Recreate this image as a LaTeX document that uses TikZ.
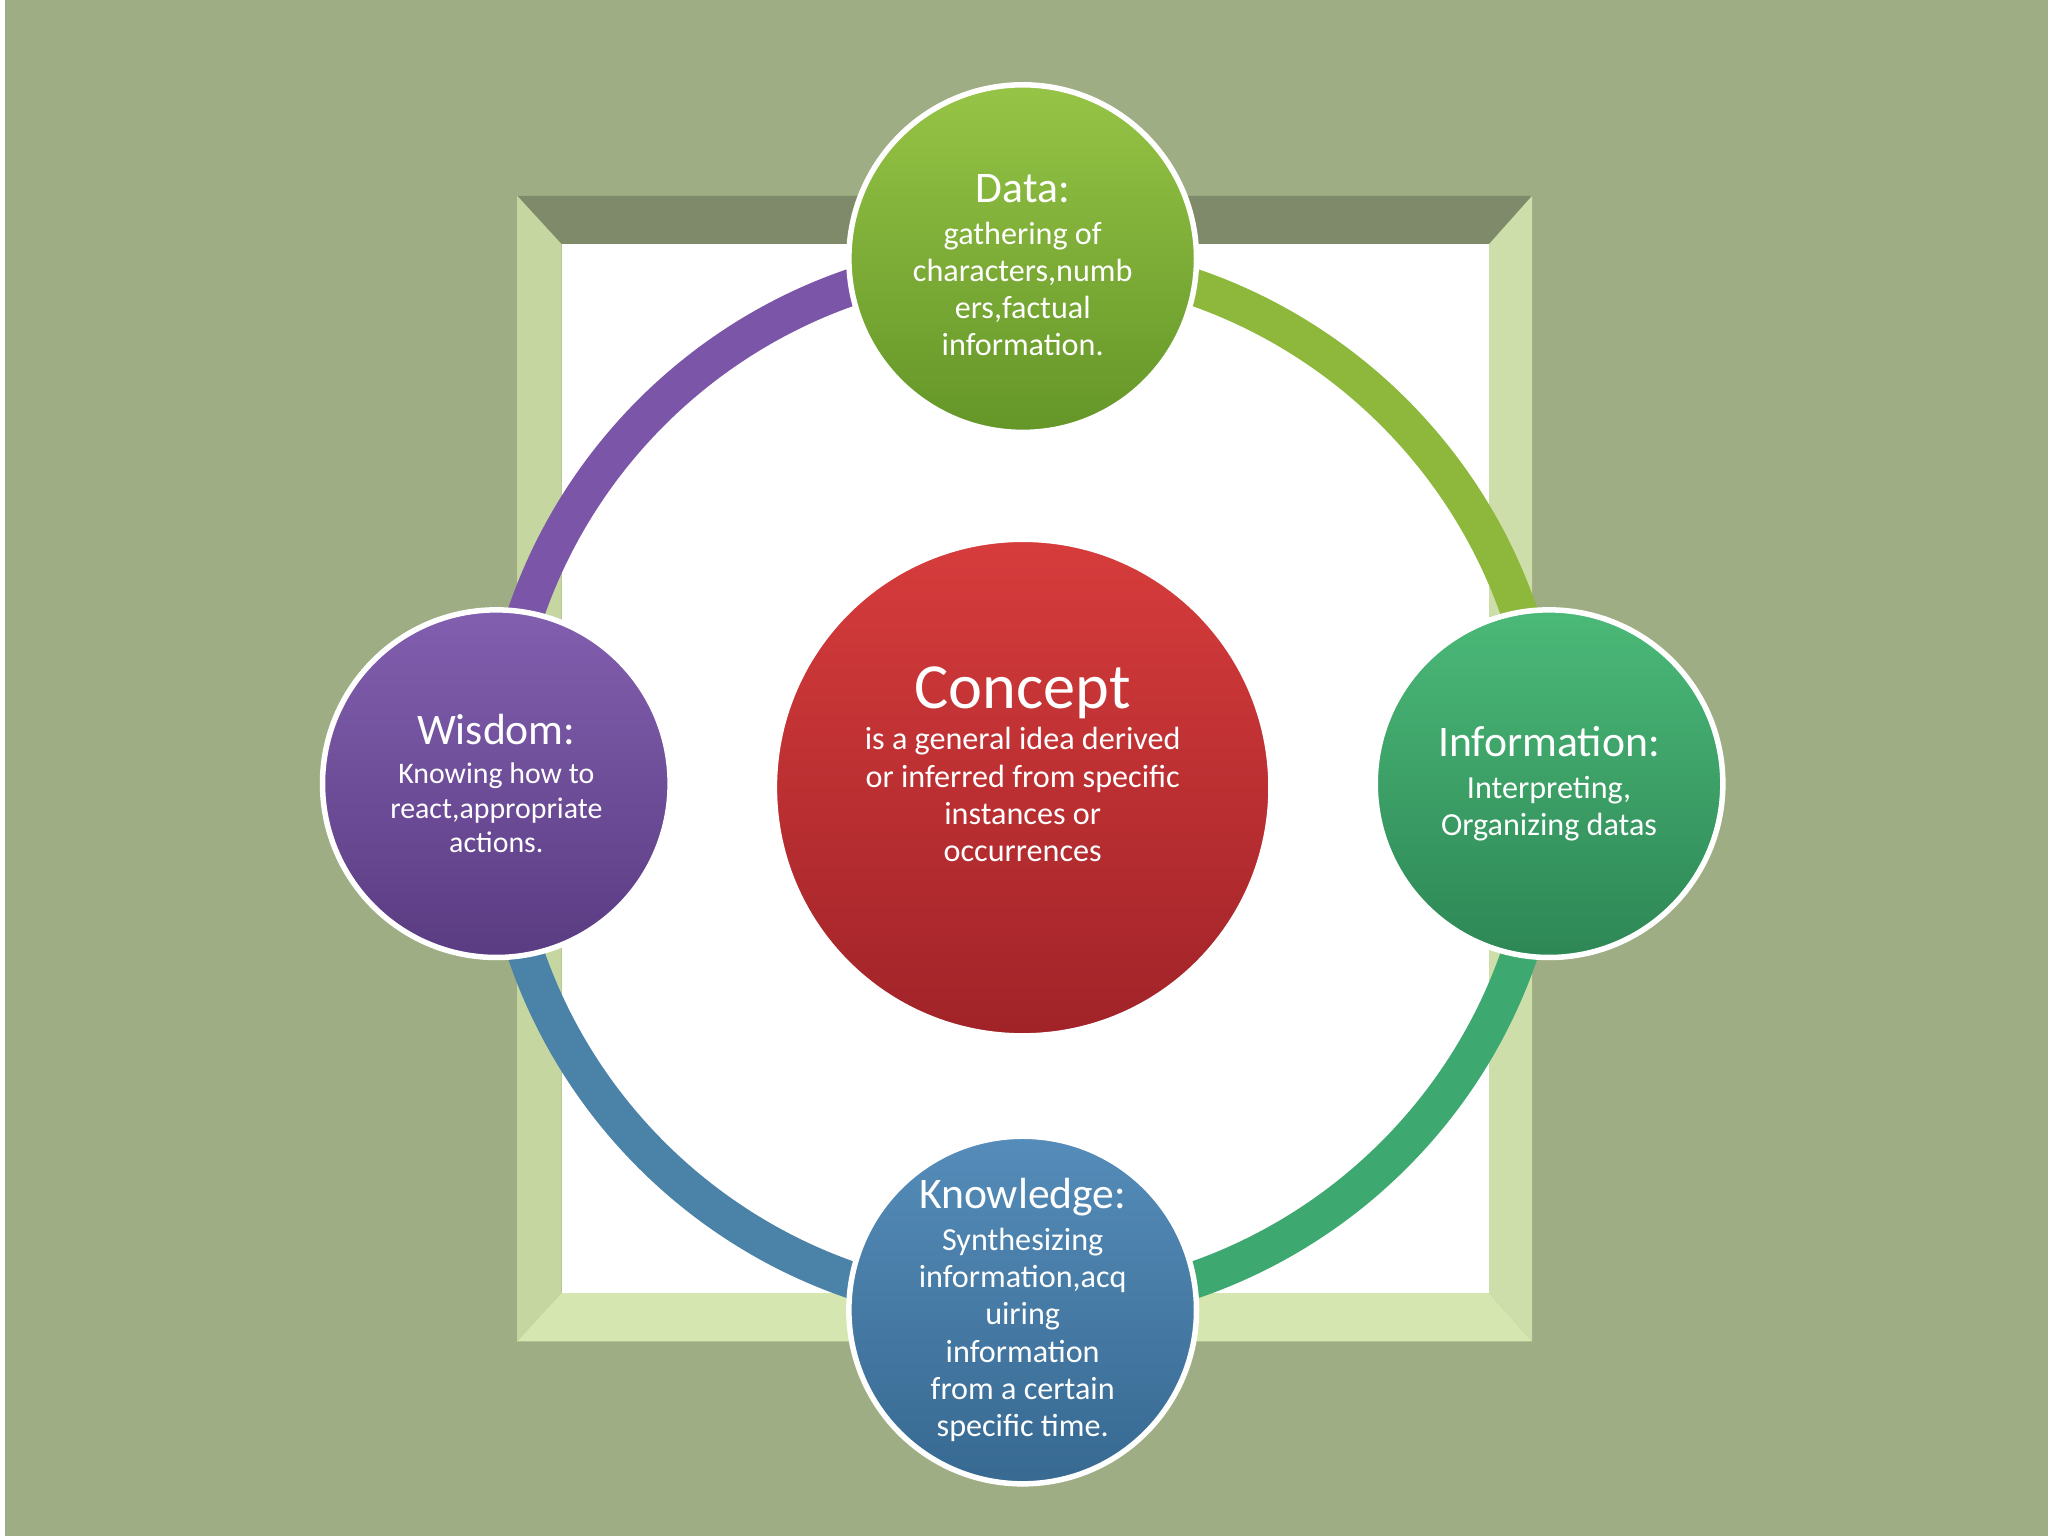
\documentclass[tikz,border=0pt]{standalone}
\usepackage{fontspec}
\setmainfont{Carlito}
\begin{document}
\begin{tikzpicture}[x=0.01cm,y=-0.01cm,
  ball/.style={circle,draw=white,line width=1.2pt,text=white,align=center,inner sep=0pt},
  txt/.style={align=center,text=white,font=\fontsize{7}{8.1}\selectfont}]
\useasboundingbox (0,0) rectangle (1568,1176);
\fill[fill={rgb,255:red,158;green,173;blue,131}] (0,0) rectangle (1568,1176);
\fill[white] (0,0) rectangle (4,1176);
% frame
\fill[fill={rgb,255:red,127;green,138;blue,106}] (396,150)--(1173,150)--(1140,187)--(430,187)--cycle;
\fill[fill={rgb,255:red,197;green,214;blue,160}] (396,150)--(430,187)--(430,990)--(396,1027)--cycle;
\fill[fill={rgb,255:red,213;green,230;blue,176}] (396,1027)--(430,990)--(1140,990)--(1173,1027)--cycle;
\fill[fill={rgb,255:red,205;green,222;blue,170}] (1173,150)--(1140,187)--(1140,990)--(1173,1027)--cycle;
\fill[white] (430,187) rectangle (1140,990);
% ring
\draw[line width=8pt,color={rgb,255:red,123;green,85;blue,168}] (783,198) arc[start angle=-90,end angle=-180,radius=402];
\draw[line width=8pt,color={rgb,255:red,141;green,184;blue,60}] (1185,600) arc[start angle=0,end angle=-90,radius=402];
\draw[line width=8pt,color={rgb,255:red,61;green,168;blue,112}] (1185,600) arc[start angle=0,end angle=90,radius=402];
\draw[line width=8pt,color={rgb,255:red,74;green,130;blue,168}] (381,600) arc[start angle=180,end angle=90,radius=402];
% balls
\node[ball,minimum size=2.66cm,top color={rgb,255:red,150;green,196;blue,70},bottom color={rgb,255:red,100;green,150;blue,40}] (data) at (783,198) {};
\node[txt] (datat) at (783,203) {{\fontsize{9.5}{10}\selectfont Data:}\\[1pt]gathering of\\characters,numb\\ers,factual\\information.};
\node[ball,minimum size=2.66cm,top color={rgb,255:red,75;green,185;blue,120},bottom color={rgb,255:red,45;green,135;blue,85}] (info) at (1186,600) {};
\node[txt] (infot) at (1186,600) {{\fontsize{9.5}{10}\selectfont Information:}\\[1pt]Interpreting,\\Organizing datas};
\node[ball,minimum size=2.66cm,top color={rgb,255:red,85;green,140;blue,185},bottom color={rgb,255:red,55;green,105;blue,145}] (know) at (783,1003) {};
\node[txt] (knowt) at (783,1003) {{\fontsize{9.5}{10}\selectfont Knowledge:}\\[1pt]Synthesizing\\information,acq\\uiring\\information\\from a certain\\specific time.};
\node[ball,minimum size=2.66cm,top color={rgb,255:red,130;green,95;blue,175},bottom color={rgb,255:red,90;green,60;blue,130}] (wis) at (380,600) {};
\node[txt,font=\fontsize{6.5}{7.5}\selectfont] (wist) at (380,600) {{\fontsize{9.5}{10}\selectfont Wisdom:}\\[1pt]Knowing how to\\react,appropriate\\actions.};
\node[ball,minimum size=3.8cm,top color={rgb,255:red,215;green,60;blue,60},bottom color={rgb,255:red,160;green,35;blue,40}] (con) at (783,603) {};
\node[txt] (cont) at (783,585) {{\fontsize{14}{15}\selectfont Concept}\\[1pt]is a general idea derived\\or inferred from specific\\instances or\\occurrences};
\end{tikzpicture}
\end{document}
